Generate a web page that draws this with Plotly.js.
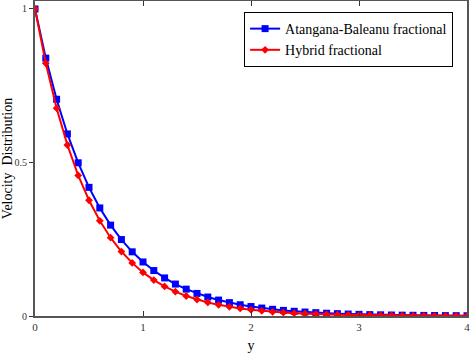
<!DOCTYPE html>
<html>
<head>
<meta charset="utf-8">
<script src="https://cdn.plot.ly/plotly-3.0.1.min.js"></script>
<style>html,body{margin:0;padding:0;background:#fff;}#chart{width:474px;height:355px;}</style>
</head>
<body>
<div id="chart"></div>
<script>
const yPos = [0,0.1,0.2,0.3,0.4,0.5,0.6,0.7,0.8,0.9,1.0,1.1,1.2,1.3,1.4,1.5,1.6,1.7,1.8,1.9,2.0,2.1,2.2,2.3,2.4,2.5,2.6,2.7,2.8,2.9,3.0,3.1,3.2,3.3,3.4,3.5,3.6,3.7,3.8,3.9,4.0];
const atanganaBaleanu = [1,0.840,0.706,0.593,0.499,0.419,0.352,0.296,0.249,0.209,0.176,0.148,0.124,0.104,0.0875,0.0735,0.0618,0.0519,0.0436,0.0367,0.0308,0.0259,0.0218,0.0183,0.0154,0.0129,0.0109,0.0091,0.0077,0.0064,0.0054,0.0045,0.0038,0.0032,0.0027,0.0023,0.0019,0.0016,0.0013,0.0011,0.0009];
const hybrid = [1,0.823,0.677,0.557,0.458,0.377,0.310,0.255,0.210,0.173,0.142,0.117,0.0963,0.0793,0.0652,0.0537,0.0442,0.0363,0.0299,0.0246,0.0202,0.0167,0.0137,0.0113,0.0093,0.0076,0.0063,0.0052,0.0043,0.0035,0.0029,0.0024,0.0020,0.0016,0.0013,0.0011,0.0009,0.0007,0.0006,0.0005,0.0004];
const xTicks = [0,1,2,3,4];
const yTicks = [0,0.5,1];
const yTickText = ['0','0.5','1'];

const serif = 'Liberation Serif, Times New Roman, serif';
const traces = [
  {x: yPos, y: atanganaBaleanu, mode: 'lines+markers', name: 'Atangana-Baleanu fractional',
   line: {color: '#0000ff', width: 2}, marker: {symbol: 'square', size: 7, color: '#0000ff'}},
  {x: yPos, y: hybrid, mode: 'lines+markers', name: 'Hybrid fractional',
   line: {color: '#ff0000', width: 2}, marker: {symbol: 'diamond', size: 6, color: '#ff0000'}}
];
const layout = {
  width: 474, height: 355,
  margin: {l: 35, r: 7, t: 1, b: 39},
  paper_bgcolor: '#fff', plot_bgcolor: '#fff',
  showlegend: true,
  legend: {x: 0.484, y: 0.965, xanchor: 'left', yanchor: 'top', bgcolor: '#fff',
    bordercolor: '#000', borderwidth: 1, font: {family: serif, size: 14, color: '#000'},
    tracegroupgap: 0, itemwidth: 30},
  xaxis: {range: [0, 4], tickvals: xTicks, ticktext: xTicks.map(String), ticks: 'inside', ticklen: 5,
    tickcolor: '#333', showgrid: false, zeroline: false, showline: true, linecolor: '#555', linewidth: 2,
    mirror: 'ticks', tickfont: {family: serif, size: 11, color: '#333'},
    title: {text: 'y', font: {family: serif, size: 14, color: '#000'}, standoff: 8}},
  yaxis: {range: [0, 1.026], tickvals: yTicks, ticktext: yTickText, ticks: 'outside', ticklen: 4,
    tickcolor: '#333', showgrid: false, zeroline: false, showline: true, linecolor: '#555', linewidth: 2,
    mirror: true, tickfont: {family: serif, size: 10, color: '#333'},
    title: {text: 'Velocity  Distribution', font: {family: serif, size: 14, color: '#000'}, standoff: 1}}
};
Plotly.newPlot('chart', traces, layout, {displayModeBar: false, staticPlot: true});
</script>
</body>
</html>
